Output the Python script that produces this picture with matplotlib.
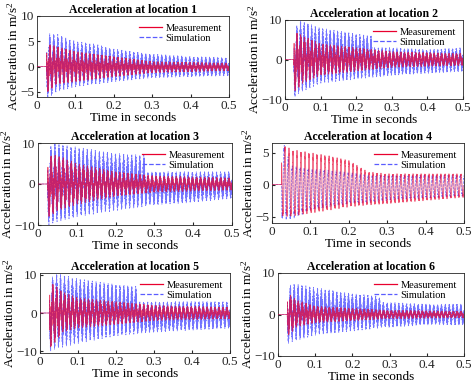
import matplotlib
matplotlib.use('Agg')
import matplotlib.pyplot as plt
import numpy as np

plt.rcParams['font.family'] = ['Liberation Serif', 'DejaVu Serif']
plt.rcParams['mathtext.fontset'] = 'custom'
plt.rcParams['mathtext.rm'] = 'Liberation Serif'
plt.rcParams['mathtext.default'] = 'regular'

COLOR_MEAS = '#e8002e'
COLOR_SIM = '#5a5cff'

# envelope knots: (time, upper, lower)
meas_env = {
    1: ([0.025, 0.03, 0.05, 0.1, 0.2, 0.3, 0.5], [4.5, 4.5, 4.0, 3.0, 2.0, 1.0, 0.7], [-5.0, -5.0, -3.5, -3.0, -2.0, -1.2, -0.8]),
    2: ([0.025, 0.03, 0.05, 0.1, 0.2, 0.3, 0.5], [7.0, 7.0, 6.0, 4.0, 3.0, 2.0, 1.5], [-8.0, -8.0, -6.0, -4.0, -3.0, -2.0, -1.5]),
    3: ([0.025, 0.03, 0.05, 0.1, 0.2, 0.3, 0.5], [7.0, 7.0, 7.0, 5.0, 3.0, 2.0, 1.5], [-8.0, -8.0, -6.5, -5.0, -3.0, -2.0, -1.5]),
    4: ([0.025, 0.05, 0.1, 0.15, 0.2, 0.25, 0.3, 0.4, 0.5], [6.5, 5.5, 5.0, 4.5, 3.8, 2.0, 1.7, 1.7, 1.7], [-5.0, -5.0, -4.5, -4.0, -3.5, -3.2, -3.0, -2.5, -2.0]),
    5: ([0.025, 0.03, 0.06, 0.1, 0.2, 0.3, 0.5], [8.0, 8.0, 5.5, 4.0, 3.0, 2.0, 1.5], [-9.0, -9.0, -5.0, -4.0, -3.0, -2.0, -1.5]),
    6: ([0.025, 0.03, 0.05, 0.1, 0.2, 0.3, 0.5], [5.0, 5.0, 3.5, 2.0, 1.5, 1.0, 0.8], [-5.0, -5.0, -3.0, -2.0, -1.5, -1.0, -0.8]),
}
sim_env = {
    1: ([0.025, 0.03, 0.05, 0.1, 0.15, 0.2, 0.3, 0.4, 0.5], [6.5, 6.5, 6.5, 5.0, 4.5, 3.5, 2.5, 2.0, 1.8], [-6.3, -6.3, -5.0, -4.0, -3.5, -3.0, -2.2, -2.0, -1.8]),
    2: ([0.025, 0.03, 0.04, 0.1, 0.2, 0.245, 0.25, 0.3, 0.4, 0.5], [8.0, 8.0, 10.0, 8.0, 6.5, 6.0, 3.0, 3.0, 2.5, 3.0], [-9.5, -9.5, -8.5, -6.0, -5.0, -4.5, -4.5, -4.0, -3.5, -3.0]),
    3: ([0.025, 0.03, 0.04, 0.1, 0.2, 0.275, 0.28, 0.4, 0.5], [9.0, 9.0, 10.0, 9.0, 7.5, 7.0, 3.0, 3.0, 3.0], [-10.0, -10.0, -9.5, -8.0, -6.5, -5.5, -5.2, -4.5, -3.5]),
    4: ([0.025, 0.03, 0.05, 0.1, 0.2, 0.25, 0.3, 0.5], [6.5, 6.5, 3.0, 2.5, 2.0, 1.5, 1.5, 1.5], [-5.5, -5.5, -5.5, -4.0, -3.0, -2.8, -2.5, -1.8]),
    5: ([0.025, 0.03, 0.04, 0.1, 0.2, 0.255, 0.26, 0.4, 0.5], [9.0, 9.0, 10.5, 9.0, 7.5, 7.0, 3.0, 3.0, 3.0], [-10.0, -10.0, -9.5, -8.0, -6.0, -5.5, -5.3, -4.5, -4.0]),
    6: ([0.025, 0.03, 0.04, 0.1, 0.2, 0.27, 0.28, 0.4, 0.5], [7.0, 7.0, 7.5, 6.5, 5.0, 4.5, 3.0, 2.5, 2.5], [-7.0, -7.0, -6.5, -5.0, -4.0, -3.3, -3.2, -2.5, -2.5]),
}
t_start = 0.025
low_freq = 96.0
high_freq = 910.0
high_share = {1: 0.45, 2: 0.45, 3: 0.45, 4: 0.08, 5: 0.45, 6: 0.45}
sim_phase = {1: 0.4, 2: 0.4, 3: 0.4, 4: 1.3, 5: 0.4, 6: 0.4}

ylims = {1: (-6, 10), 2: (-10, 10), 3: (-10, 10), 4: (-6, 6.5), 5: (-10.5, 10.5), 6: (-10, 10)}
yticks = {1: [-5, 0, 5, 10], 2: [-10, 0, 10], 3: [-10, 0, 10], 4: [-5, 0, 5], 5: [-10, 0, 10], 6: [-10, 0, 10]}
xticks = [0, 0.1, 0.2, 0.3, 0.4, 0.5]
xticklabels = ['0', '0.1', '0.2', '0.3', '0.4', '0.5']

# axes boxes in pixels: left, right, top, bottom
boxes = {1: (37, 229, 16, 97), 2: (285, 463, 20, 99), 3: (38, 232, 143, 225),
         4: (272, 464, 143, 223), 5: (40, 230, 273, 353), 6: (278, 464, 273, 356)}

W, H = 474, 388
fig = plt.figure(figsize=(W / 100, H / 100), dpi=100)

t = np.linspace(0, 0.5, 25001)


def wave(env, share, phase):
    kt, up, lo = env
    upper = np.interp(t, kt, up)
    lower = np.interp(t, kt, lo)
    osc = (1 - share) * np.sin(2 * np.pi * low_freq * t + phase) + share * np.sin(2 * np.pi * high_freq * t + phase)
    y = (upper + lower) / 2 + (upper - lower) / 2 * osc
    y[t < t_start] = 0
    return y


for k in range(1, 7):
    l, r, tp, b = boxes[k]
    ax = fig.add_axes([l / W, 1 - b / H, (r - l) / W, (b - tp) / H])
    sim = wave(sim_env[k], high_share[k], sim_phase[k])
    meas = wave(meas_env[k], high_share[k], 0.0)
    ax.plot(t, sim, color=COLOR_SIM, lw=0.5, ls='--', alpha=0.85, zorder=2)
    ax.plot(t, meas, color=COLOR_MEAS, lw=0.55, alpha=0.7, zorder=3)
    # legend handles in the original plotting order
    ax.plot([], [], color=COLOR_MEAS, lw=0.9, label='Measurement')
    ax.plot([], [], color=COLOR_SIM, lw=0.9, ls='--', label='Simulation')
    ax.set_xlim(0, 0.5)
    ax.set_ylim(*ylims[k])
    ax.set_xticks(xticks)
    ax.set_xticklabels(xticklabels)
    ax.set_yticks(yticks[k])
    ax.tick_params(direction='in', length=2.5, labelsize=9.5, colors='#262626', pad=2)
    for s in ax.spines.values():
        s.set_color('#262626')
        s.set_linewidth(0.6)
    ax.set_title(f'Acceleration at location {k}', fontsize=8.5, fontweight='bold', pad=2)
    ax.set_xlabel('Time in seconds', fontsize=9.5, labelpad=0)
    ax.set_ylabel('Acceleration in m/s$^2$', fontsize=9.5, labelpad=0)
    ax.legend(loc='upper right', frameon=False, fontsize=7.5, handlelength=2.2,
              handletextpad=0.3, labelspacing=0.1, borderaxespad=0.3)

fig.savefig('out.png', dpi=100)
